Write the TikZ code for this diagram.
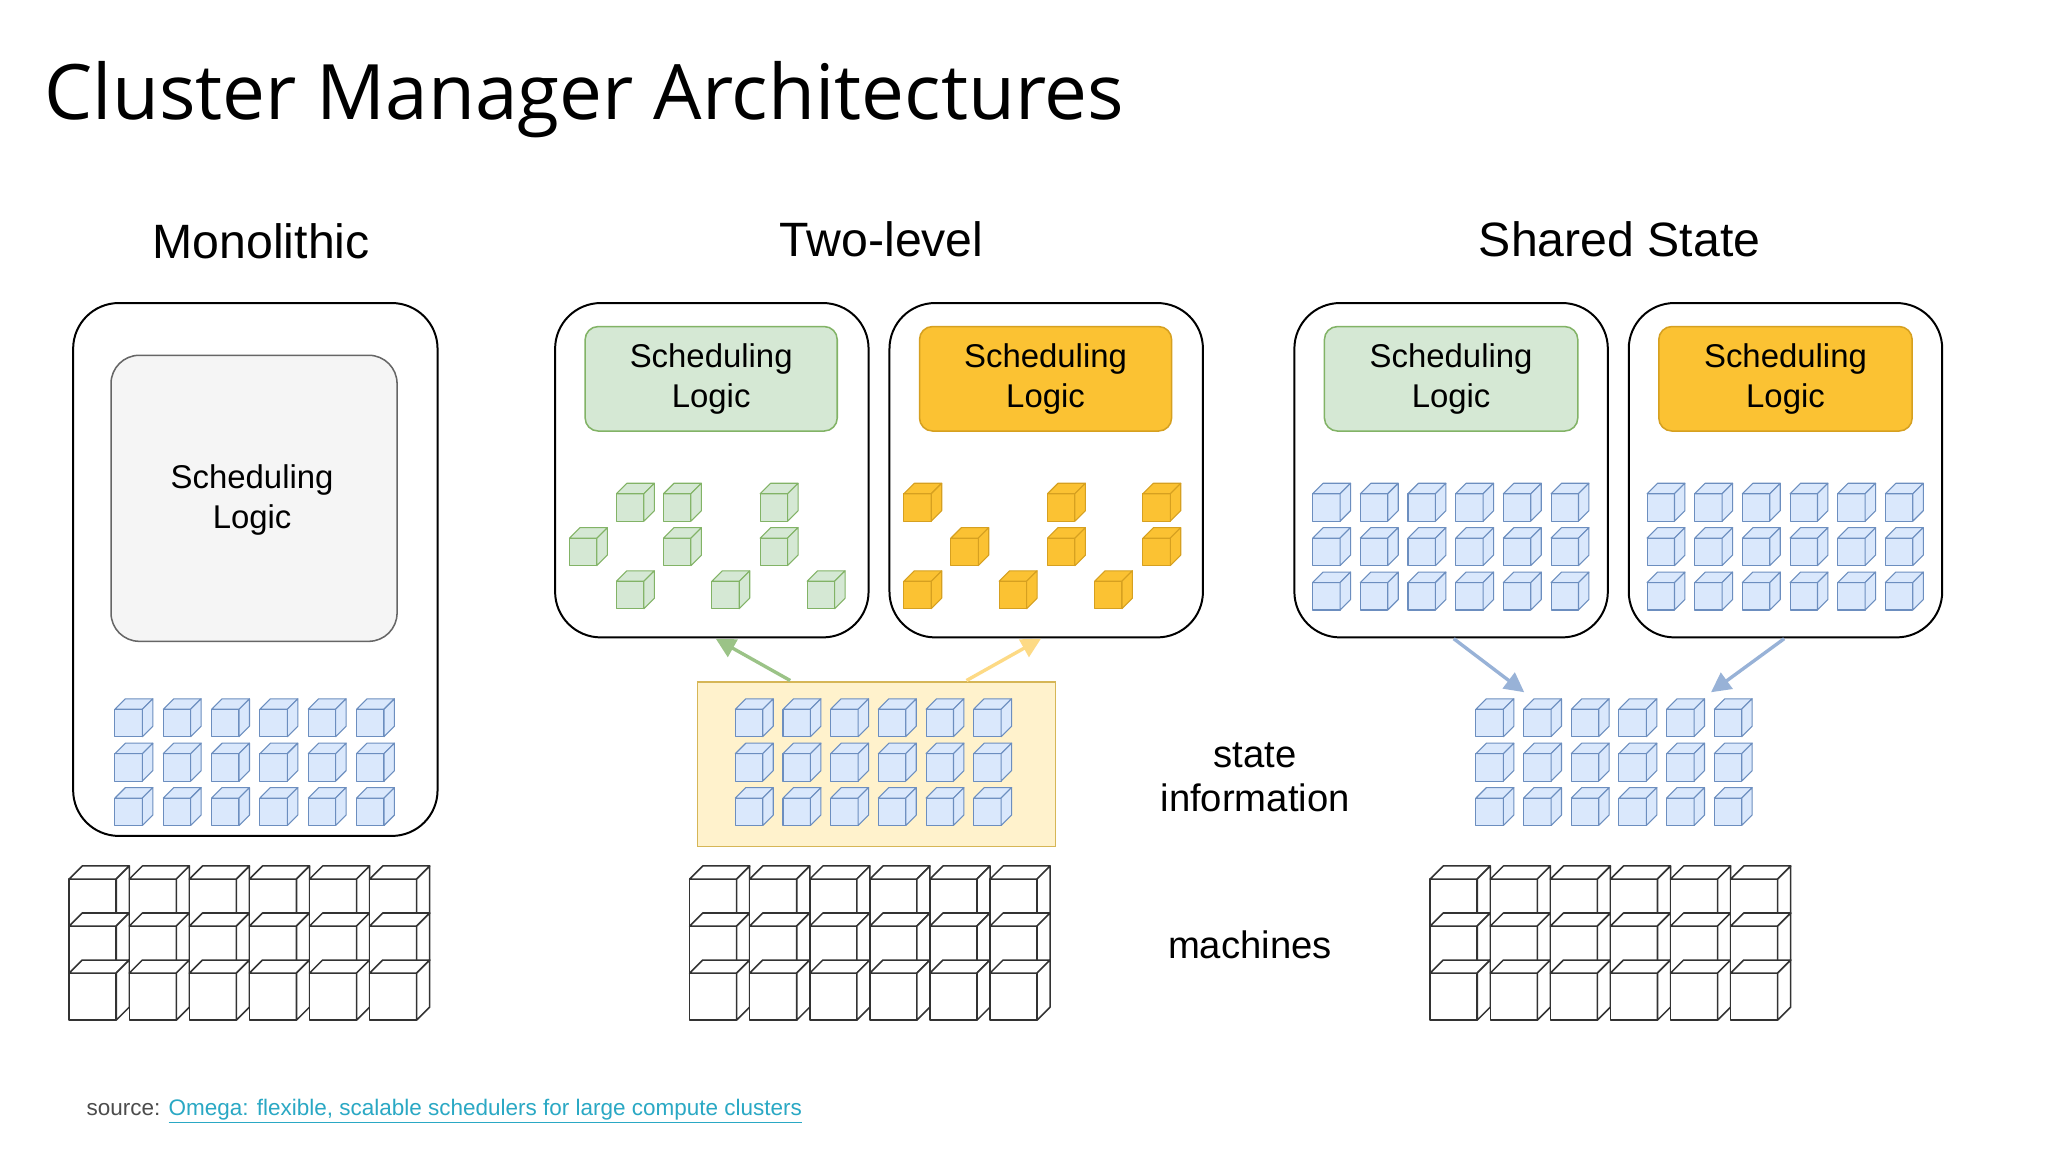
\documentclass[tikz,border=0pt]{standalone}
\usepackage{fontspec}
\setmainfont{Liberation Sans}
\newfontfamily\titlefont{Open Sans}
\usetikzlibrary{arrows.meta}
\definecolor{bfill}{HTML}{DAE8FC}\definecolor{bdraw}{HTML}{6C8EBF}
\definecolor{gfill}{HTML}{D5E8D4}\definecolor{gdraw}{HTML}{82B366}
\definecolor{yfill}{HTML}{FBC233}\definecolor{ydraw}{HTML}{D6A020}
\definecolor{sfill}{HTML}{FFF2CC}\definecolor{sdraw}{HTML}{D6B656}
\definecolor{link}{HTML}{2AA8C4}
\begin{document}
\begin{tikzpicture}[x=0.03cm,y=-0.03cm,
  pics/cube/.style args={#1/#2}{code={
    \path[pic actions] (0,0) rectangle (#1,#1);
    \path[pic actions] (0,0)--(#2,-#2)--(#1+#2,-#2)--(#1,0)--cycle;
    \path[pic actions] (#1,0)--(#1+#2,-#2)--(#1+#2,#1-#2)--(#1,#1)--cycle;}},
  bc/.style={fill=bfill,draw=bdraw,line width=0.7pt,line join=round},
  gc/.style={fill=gfill,draw=gdraw,line width=0.7pt,line join=round},
  yc/.style={fill=yfill,draw=ydraw,line width=0.7pt,line join=round},
  mc/.style={fill=white,draw=black!80,line width=1pt,line join=round},
  outer/.style={draw=black,line width=1.3pt,rounded corners=1.05cm},
  sched/.style={line width=1pt,rounded corners=0.3cm,align=center,font=\fontsize{21.5}{26}\selectfont},
  head/.style={font=\fontsize{31.5}{36}\selectfont},
  lbl/.style={align=center,font=\fontsize{25}{29}\selectfont},
  arr/.style={line width=2.2pt,-{Triangle[length=0.45cm,width=0.45cm]}}]
\useasboundingbox (0,0) rectangle (1568,882);
\fill[white] (0,0) rectangle (1568,882);
\node[anchor=west,font=\titlefont\fontsize{50}{56}\selectfont] (title) at (30,76) {Cluster Manager Architectures};
\node[head] (h1) at (200,185) {Monolithic};
\node[head] (h2) at (675,183) {Two-level};
\node[head] (h3) at (1240,183) {Shared State};
% Monolithic
\draw[outer] (56,232) rectangle (335,640);
\draw[fill=black!4,draw=black!60,line width=1pt,rounded corners=0.65cm] (85,272) rectangle (304,491);
\node[sched] (m1) at (193,383) {Scheduling\\Logic};
\foreach \i in {0,...,5}\foreach \j in {0,1,2}
  \pic[bc] at ({88+37*\i},{543+34*\j}) {cube=21/8};
% Two-level
\draw[outer] (425,232) rectangle (665,488);
\draw[outer] (681,232) rectangle (921,488);
\node[sched,fill=gfill,draw=gdraw,minimum width=5.79cm,minimum height=2.4cm] (s1) at (544.5,290) {Scheduling\\Logic};
\node[sched,fill=yfill,draw=ydraw,minimum width=5.79cm,minimum height=2.4cm] (s2) at (800.5,290) {Scheduling\\Logic};
\foreach \p in {(472,378),(508,378),(582,378),(436,412),(508,412),(582,412),(472,445),(545,445),(618,445)}
  \pic[gc] at \p {cube=21/8};
\foreach \p in {(692,378),(802,378),(875,378),(728,412),(802,412),(875,412),(692,445),(765,445),(838,445)}
  \pic[yc] at \p {cube=21/8};
\node[fill=sfill,draw=sdraw,line width=1pt,minimum width=8.22cm,minimum height=3.78cm] (st) at (671,585) {};
\foreach \i in {0,...,5}\foreach \j in {0,1,2}
  \pic[bc] at ({563+36.5*\i},{543+34*\j}) {cube=21/8};
\coordinate (a1s) at (605,521);\coordinate (a1e) at (548,489);
\coordinate (a2s) at (740,521);\coordinate (a2e) at (797,489);
\draw[arr,draw=gdraw!70!gfill] (a1s) -- (a1e);
\draw[arr,draw=yfill!60!white] (a2s) -- (a2e);
% Shared
\draw[outer] (991,232) rectangle (1231,488);
\draw[outer] (1247,232) rectangle (1487,488);
\node[sched,fill=gfill,draw=gdraw,minimum width=5.82cm,minimum height=2.4cm] (s3) at (1111,290) {Scheduling\\Logic};
\node[sched,fill=yfill,draw=ydraw,minimum width=5.82cm,minimum height=2.4cm] (s4) at (1367,290) {Scheduling\\Logic};
\foreach \i in {0,...,5}\foreach \j in {0,1,2}{
  \pic[bc] at ({1005+36.5*\i},{378+34*\j}) {cube=21/8};
  \pic[bc] at ({1261+36.5*\i},{378+34*\j}) {cube=21/8};
  \pic[bc] at ({1130+36.5*\i},{543+34*\j}) {cube=21/8};}
\coordinate (a3s) at (1113,489);\coordinate (a3e) at (1167,530);
\coordinate (a4s) at (1366,489);\coordinate (a4e) at (1310,530);
\draw[arr,draw=bdraw!60!bfill] (a3s) -- (a3e);
\draw[arr,draw=bdraw!60!bfill] (a4s) -- (a4e);
% machines
\foreach \x in {53,528,1095}\foreach \i in {0,...,5}\foreach \j in {0,1,2}
  \pic[mc] at ({\x+46*\i},{673+36*\j}) {cube=36/10};
\node[lbl] (si) at (961,595) {state\\information};
\node[lbl] (ma) at (957,723) {machines};
\node[anchor=west,font=\fontsize{14.7}{17}\selectfont,inner sep=0] (src) at (66,851) {\textcolor{black!70}{source: }\textcolor{link}{\underline{Omega: flexible, scalable schedulers for large compute clusters}}};
\end{tikzpicture}
\end{document}
